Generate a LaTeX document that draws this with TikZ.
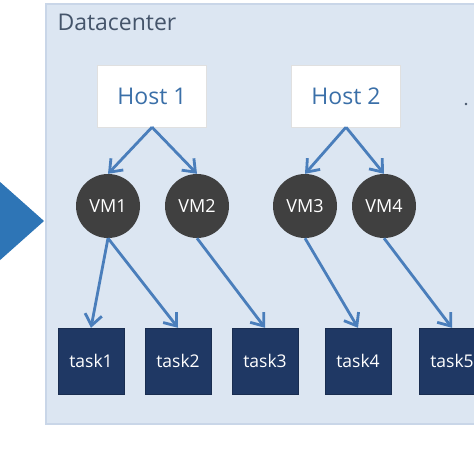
\documentclass[tikz,border=0pt]{standalone}
\usepackage{fontspec}
\setmainfont{Open Sans}
\usetikzlibrary{arrows.meta}
\definecolor{panelblue}{HTML}{DCE6F2}
\definecolor{panelline}{HTML}{C9D6E8}
\definecolor{hosttext}{HTML}{3A6FA8}
\definecolor{dctext}{HTML}{44546A}
\definecolor{vmgray}{HTML}{404040}
\definecolor{tasknavy}{HTML}{1F3864}
\definecolor{arrowblue}{HTML}{4A7EBB}
\definecolor{bigblue}{HTML}{2E75B6}
\begin{document}
\begin{tikzpicture}[x=1pt, y=-1pt,
  hostbox/.style={draw=black!12, fill=white, minimum width=109pt, minimum height=62pt, text=hosttext, font=\fontsize{23}{26}\selectfont},
  vmnode/.style={circle, fill=vmgray, minimum size=64pt, inner sep=0pt, text=white, font=\fontsize{18}{21}\selectfont},
  taskbox/.style={fill=tasknavy, draw=tasknavy!80!black, minimum width=66pt, minimum height=66pt, inner sep=0pt, text=white, font=\fontsize{17.5}{20}\selectfont},
  link/.style={draw=arrowblue, line width=2.8pt, -{Straight Barb[length=11pt, width=17pt]}}]
\useasboundingbox (0,0) rectangle (474,474);
\clip (0,0) rectangle (474,474);
\fill[white] (0,0) rectangle (474,474);
% incoming arrow on the left
\fill[bigblue] (-10,173) -- (44,221) -- (-10,269) -- cycle;
% datacenter panel
\draw[fill=panelblue, draw=panelline, line width=1.2pt] (46,4) rectangle (490,424);
\node[anchor=west, text=dctext, font=\fontsize{23}{26}\selectfont] (dc) at (54,22) {Datacenter};
\fill[dctext] (466,104) circle (1.3);
% hosts
\node[hostbox] (h1) at (152,96) {Host 1};
\node[hostbox] (h2) at (346,96) {Host 2};
% virtual machines
\node[vmnode] (vm1) at (108,206) {VM1};
\node[vmnode] (vm2) at (197,206) {VM2};
\node[vmnode] (vm3) at (305,206) {VM3};
\node[vmnode] (vm4) at (384,206) {VM4};
% tasks
\node[taskbox] (t1) at (91,361) {task1};
\node[taskbox] (t2) at (178,361) {task2};
\node[taskbox] (t3) at (265,361) {task3};
\node[taskbox] (t4) at (358,361) {task4};
\node[taskbox] (t5) at (452,361) {task5};
% links
\draw[link] (h1.south) -- (vm1.north);
\draw[link] (h1.south) -- (vm2.north);
\draw[link] (h2.south) -- (vm3.north);
\draw[link] (h2.south) -- (vm4.north);
\draw[link] (vm1.south) -- (t1.north);
\draw[link] (vm1.south) -- (t2.north);
\draw[link] (vm2.south) -- (t3.north);
\draw[link] (vm3.south) -- (t4.north);
\draw[link] (vm4.south) -- (t5.north);
\end{tikzpicture}
\end{document}
